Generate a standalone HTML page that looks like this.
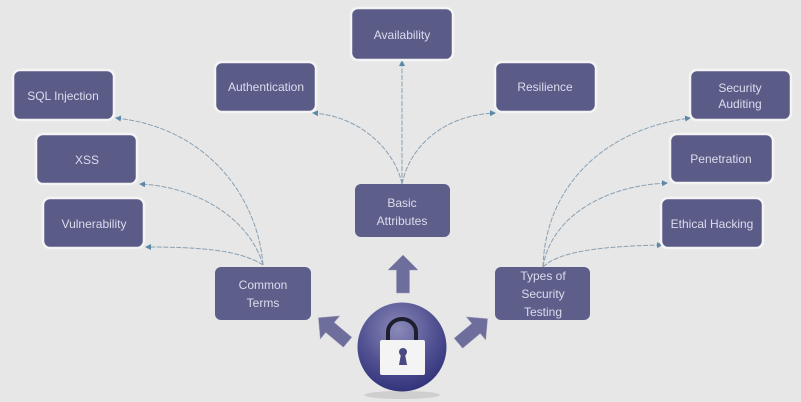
<!DOCTYPE html>
<html><head><meta charset="utf-8"><style>
html,body{margin:0;padding:0;background:#e7e7e7;}
svg{display:block;}
text{font-family:"Liberation Sans","DejaVu Sans",sans-serif;fill:#dcdcee;font-size:12px;text-anchor:middle;}
</style></head><body>
<svg width="801" height="402" viewBox="0 0 801 402" xmlns="http://www.w3.org/2000/svg">
<defs>
<marker id="ah" markerWidth="6" markerHeight="6" refX="5" refY="3" orient="auto" markerUnits="userSpaceOnUse">
<path d="M0,0 L6,3 L0,6 z" fill="#5a8aa8"/></marker>
<radialGradient id="cg" cx="0.45" cy="0.3" r="0.75">
<stop offset="0" stop-color="#8a8ab8"/><stop offset="0.6" stop-color="#4e4e90"/><stop offset="1" stop-color="#2e2e78"/></radialGradient>
<path id="arr" d="M-6.5,19 L-6.5,-4 L-15,-4 L0,-19 L15,-4 L6.5,-4 L6.5,19 z"/>
</defs>
<rect width="801" height="402" fill="#e7e7e7"/>
<g fill="none" stroke="#8aa0b2" stroke-width="1" stroke-dasharray="5,1.5">
<path d="M263,265 C258,200 210,128 116,118" marker-end="url(#ah)"/>
<path d="M263,265 C250,220 200,187 140,184" marker-end="url(#ah)"/>
<path d="M263,265 C240,250 200,247 146,247" marker-end="url(#ah)"/>
<path d="M402,184 C395,150 360,116 313,113" marker-end="url(#ah)"/>
<path d="M402,184 L402,61" marker-end="url(#ah)"/>
<path d="M402,184 C410,145 445,115 495,113" marker-end="url(#ah)"/>
<path d="M543,267 C545,190 600,130 690,118" marker-end="url(#ah)"/>
<path d="M543,267 C550,220 600,186 667,183" marker-end="url(#ah)"/>
<path d="M543,267 C560,250 610,246 662,245" marker-end="url(#ah)"/>
</g>
<g stroke="#f4f4f4" stroke-width="2.5" fill="#5b5b88">
<rect x="13" y="70" width="101" height="50" rx="7"/>
<rect x="36" y="134" width="101" height="50" rx="7"/>
<rect x="43" y="198" width="101" height="50" rx="7"/>
<rect x="215" y="62" width="101" height="50" rx="7"/>
<rect x="351" y="8" width="102" height="52" rx="7"/>
<rect x="495" y="62" width="101" height="50" rx="7"/>
<rect x="690" y="70" width="101" height="50" rx="7"/>
<rect x="670" y="134" width="103" height="49" rx="7"/>
<rect x="661" y="198" width="102" height="50" rx="7"/>
</g>
<g fill="#5e5e8a">
<rect x="355" y="184" width="95" height="53" rx="6"/>
<rect x="215" y="267" width="96" height="53" rx="6"/>
<rect x="495" y="267" width="95" height="53" rx="6"/>
</g>
<text x="63" y="100">SQL Injection</text>
<text x="87" y="164">XSS</text>
<text x="94" y="228">Vulnerability</text>
<text x="266" y="91">Authentication</text>
<text x="402" y="39">Availability</text>
<text x="545" y="91">Resilience</text>
<text x="740" y="92">Security</text>
<text x="740" y="108">Auditing</text>
<text x="721" y="163">Penetration</text>
<text x="712" y="228">Ethical Hacking</text>
<text x="402" y="207" font-size="13">Basic</text>
<text x="402" y="225" font-size="13">Attributes</text>
<text x="263" y="289" font-size="13">Common</text>
<text x="263" y="307" font-size="13">Terms</text>
<text x="543" y="280" font-size="13">Types of</text>
<text x="543" y="298" font-size="13">Security</text>
<text x="543" y="316" font-size="13">Testing</text>
<g fill="#6e6e9c" stroke="#9a9ab8" stroke-width="0.5">
<use href="#arr" transform="translate(403,274)"/>
<use href="#arr" transform="translate(333,330) rotate(-50)"/>
<use href="#arr" transform="translate(473,331) rotate(50)"/>
</g>
<ellipse cx="402" cy="395" rx="38" ry="4" fill="#cfcfcf"/>
<circle cx="402" cy="347" r="44.5" fill="url(#cg)"/>
<path d="M388,341 L388,332 A14,13 0 0 1 416,332 L416,341" fill="none" stroke="#1e1e30" stroke-width="4"/>
<rect x="380" y="340" width="45" height="35" rx="2" fill="#f4f4f4"/>
<circle cx="403" cy="352" r="4" fill="#4a4a80"/>
<path d="M401,354 L399,365 L407,365 L405,354 z" fill="#4a4a80"/>
</svg>
</body></html>
